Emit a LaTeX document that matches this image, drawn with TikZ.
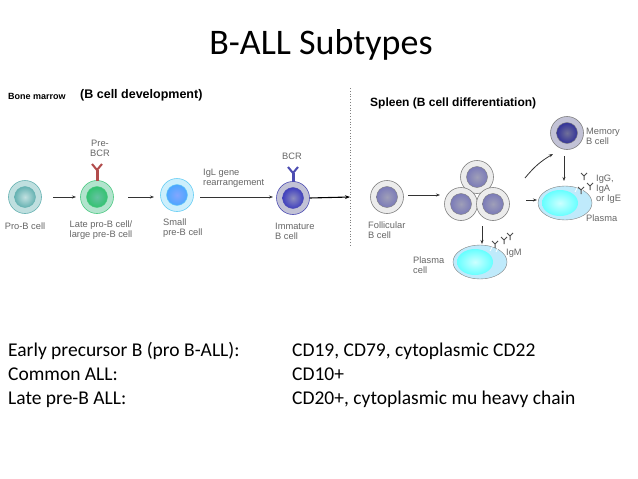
\documentclass[tikz,border=0pt]{standalone}
\usepackage{fontspec}
\setmainfont{Carlito}
\setsansfont{Liberation Sans}
\usetikzlibrary{arrows.meta,positioning,shapes.geometric}
\begin{document}
\begin{tikzpicture}[x=1pt,y=-1pt,
  lbl/.style={font=\sffamily\fontsize{9.3}{10}\selectfont,text=gray!80!black,align=left,inner sep=0pt},
  arr/.style={-{Stealth[length=4pt]},thick,gray!40!black},
  body/.style={font=\fontsize{19.5}{21}\selectfont,anchor=base west,inner sep=0pt}]
\useasboundingbox (0,0) rectangle (638,479);
\fill[white] (0,0) rectangle (638,479);
\node[font=\fontsize{36}{40}\selectfont] (title) at (321,45) {B-ALL Subtypes};
\node[font=\sffamily\bfseries\fontsize{9}{10}\selectfont,anchor=west,inner sep=0pt] (bm) at (8,96) {Bone marrow};
\node[font=\sffamily\bfseries\fontsize{12.5}{14}\selectfont,anchor=west,inner sep=0pt] (bcd) at (80,95) {(B cell development)};
\node[font=\sffamily\bfseries\fontsize{12}{14}\selectfont,anchor=west,inner sep=0pt] (sp) at (370,103) {Spleen (B cell differentiation)};
\draw[gray,dotted,thick] (350,88) -- (350,245);
\newcommand{\cellB}[6]{% name, x, y, draw, fill, inner
  \node[circle,minimum size=33pt,inner sep=0pt,draw=#4,fill=#5,line width=0.6pt] (#1) at (#2,#3) {};
  \shade[inner color=white!60!#6,outer color=#6] (#2,#3) circle (10.5);
  \draw[#4] (#2,#3) circle (10.5);
}
\colorlet{cpro}{teal!25}
\colorlet{clate}{green!30!teal!30}
\colorlet{csm}{cyan!20}
\colorlet{cimm}{blue!20!gray!40}
\colorlet{cgr}{gray!15}
\cellB{prob}{25}{197}{teal!60}{cpro}{teal!60}
\cellB{late}{97}{197}{green!40!teal!70}{clate}{green!40!teal!80}
\cellB{small}{177}{195}{cyan!60}{csm}{cyan!50!blue!70}
\cellB{imm}{293}{198}{blue!40!gray}{cimm}{blue!50!gray}
\cellB{foll}{387}{197}{gray}{cgr}{blue!30!gray!80}
\cellB{c1}{477}{177}{gray}{cgr}{blue!30!gray!80}
\cellB{c2}{461}{204}{gray}{cgr}{blue!30!gray!80}
\cellB{c3}{493}{204}{gray}{cgr}{blue!30!gray!80}
\cellB{mem}{567}{133}{gray}{cimm}{blue!50!black!80}
\draw[line width=3pt,red!40!gray] (97,181) -- (97,170);
\draw[line width=2pt,red!40!gray] (97,170) -- (92,164) (97,170) -- (102,164);
\draw[line width=3pt,blue!40!gray] (293,182) -- (293,173);
\draw[line width=2pt,blue!40!gray] (293,173) -- (288,167) (293,173) -- (298,167);
\node[ellipse,minimum width=54pt,minimum height=34pt,draw=gray,fill=cyan!25,inner sep=0pt] (pl1) at (565,203) {};
\shade[inner color=cyan!20,outer color=cyan!60] (560,203) ellipse (18 and 13);
\draw[white,thick] (575,192) arc (60:-60:6 and 12) (581,193) arc (60:-60:5 and 11);
\node[ellipse,minimum width=54pt,minimum height=34pt,draw=gray,fill=cyan!25,inner sep=0pt] (pl2) at (480,262) {};
\shade[inner color=cyan!20,outer color=cyan!60] (475,262) ellipse (18 and 13);
\draw[white,thick] (490,251) arc (60:-60:6 and 12) (496,252) arc (60:-60:5 and 11);
\foreach \x/\y in {584/176,590/186,581/190,495/244,504/240,510/236}{
  \draw[gray!60!black,line width=1pt] (\x,\y) -- (\x,\y+4) (\x,\y) -- (\x-3,\y-3) (\x,\y) -- (\x+3,\y-3);}
\draw[arr] (53,197) -- (76,197);
\draw[arr] (128,197) -- (154,197);
\draw[arr] (200,197) -- (273,197);
\draw[-{Stealth[length=5pt]},line width=1.1pt] (imm.east) -- (350,197);
\draw[arr] (408,195) -- (440,195);
\draw[arr] (525,178) to[bend left=10] (553,154);
\draw[arr] (564,156) -- (564,181);
\draw[arr] (526,200) -- (537,200);
\draw[arr] (482,226) -- (482,244);
\node[lbl] (lp) at (25,226) {Pro-B cell};
\node[lbl,align=center] (lpre) at (100,148) {Pre-\\BCR};
\node[lbl] (llate) at (101,230) {Late pro-B cell/\\large pre-B cell};
\node[lbl,anchor=west] (lsm) at (163,228) {Small\\pre-B cell};
\node[lbl,anchor=west] (ligl) at (203,178) {IgL gene\\rearrangement};
\node[lbl] (lbcr) at (292,156) {BCR};
\node[lbl,anchor=west] (limm) at (275,231) {Immature\\B cell};
\node[lbl,anchor=west] (lfol) at (368,230) {Follicular\\B cell};
\node[lbl,anchor=west] (lmem) at (586,136) {Memory\\B cell};
\node[lbl,anchor=west] (lig) at (596,189) {IgG,\\IgA\\or IgE};
\node[lbl,anchor=west] (lpl) at (586,218) {Plasma};
\node[lbl,anchor=west] (lplc) at (413,265) {Plasma\\cell};
\node[lbl,anchor=west] (ligm) at (506,253) {IgM};
\node[body] (t1) at (8,356) {Early precursor B (pro B-ALL):};
\node[body] (t2) at (8,380) {Common ALL:};
\node[body] (t3) at (8,404) {Late pre-B ALL:};
\node[body] (u1) at (292,356) {CD19, CD79, cytoplasmic CD22};
\node[body] (u2) at (292,380) {CD10+};
\node[body] (u3) at (292,404) {CD20+, cytoplasmic mu heavy chain};
\end{tikzpicture}
\end{document}
